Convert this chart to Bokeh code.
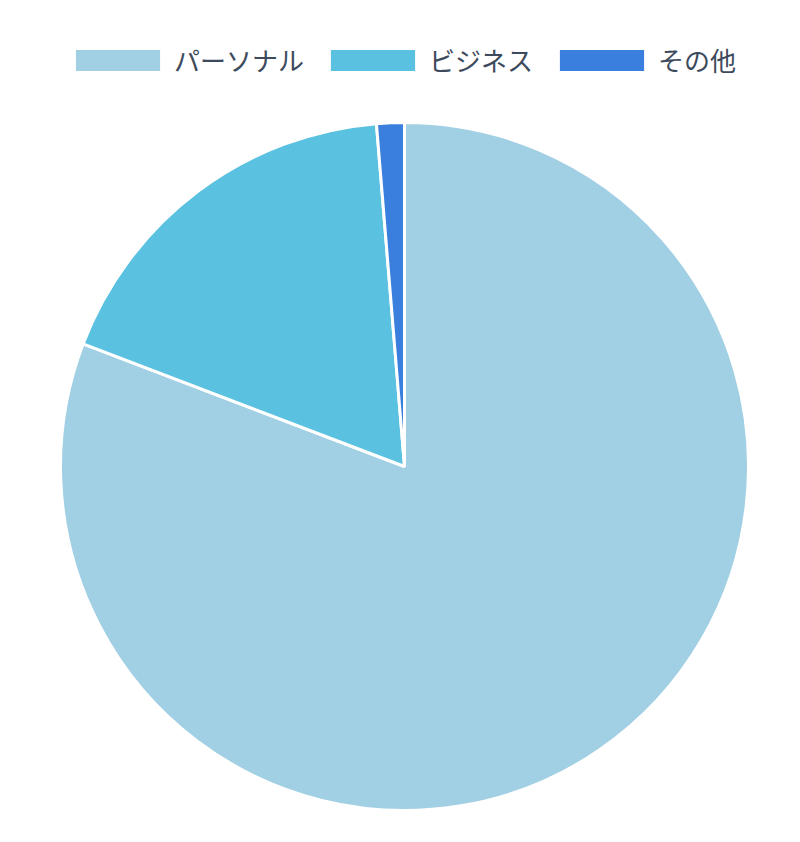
from math import pi

from bokeh.embed import file_html
from bokeh.models import ColumnDataSource, Legend, Range1d
from bokeh.plotting import figure
from bokeh.resources import INLINE

labels = ['パーソナル', 'ビジネス', 'その他']
shares = [80.8, 17.9, 1.3]
colors = ['#a1cfe3', '#5ac2e0', '#3a7fde']

# angles: start at 12 o'clock, go clockwise
total = sum(shares)
starts, ends = [], []
acc = 0.0
for s in shares:
    starts.append(pi / 2 - 2 * pi * acc / total)
    acc += s
    ends.append(pi / 2 - 2 * pi * acc / total)

source = ColumnDataSource(data=dict(label=labels, share=shares, color=colors,
                                    start=starts, end=ends))

W, H = 784, 826
p = figure(width=W, height=H, output_backend="svg", toolbar_location=None,
           x_range=Range1d(0, W), y_range=Range1d(0, H), min_border=0)
p.axis.visible = False
p.grid.visible = False
p.outline_line_color = None
p.background_fill_color = 'white'
p.border_fill_color = 'white'

r = p.wedge(x=404, y=360, radius=344, start_angle='start', end_angle='end',
            direction='clock', fill_color='color', line_color='white',
            line_width=3, source=source)

legend = Legend(items=[(labels[i], [r]) for i in range(len(labels))],
                orientation='horizontal', location=(63, 748))
for i, item in enumerate(legend.items):
    item.index = i
legend.border_line_color = None
legend.background_fill_alpha = 0
legend.padding = 0
legend.margin = 0
legend.spacing = 14
legend.glyph_width = 109
legend.glyph_height = 30
legend.label_standoff = 2
legend.label_text_font = 'Noto Sans CJK JP'
legend.label_text_font_size = '26px'
legend.label_text_color = '#3d4a5c'
p.add_layout(legend)

open("out.html", "w").write(file_html(p, INLINE))
